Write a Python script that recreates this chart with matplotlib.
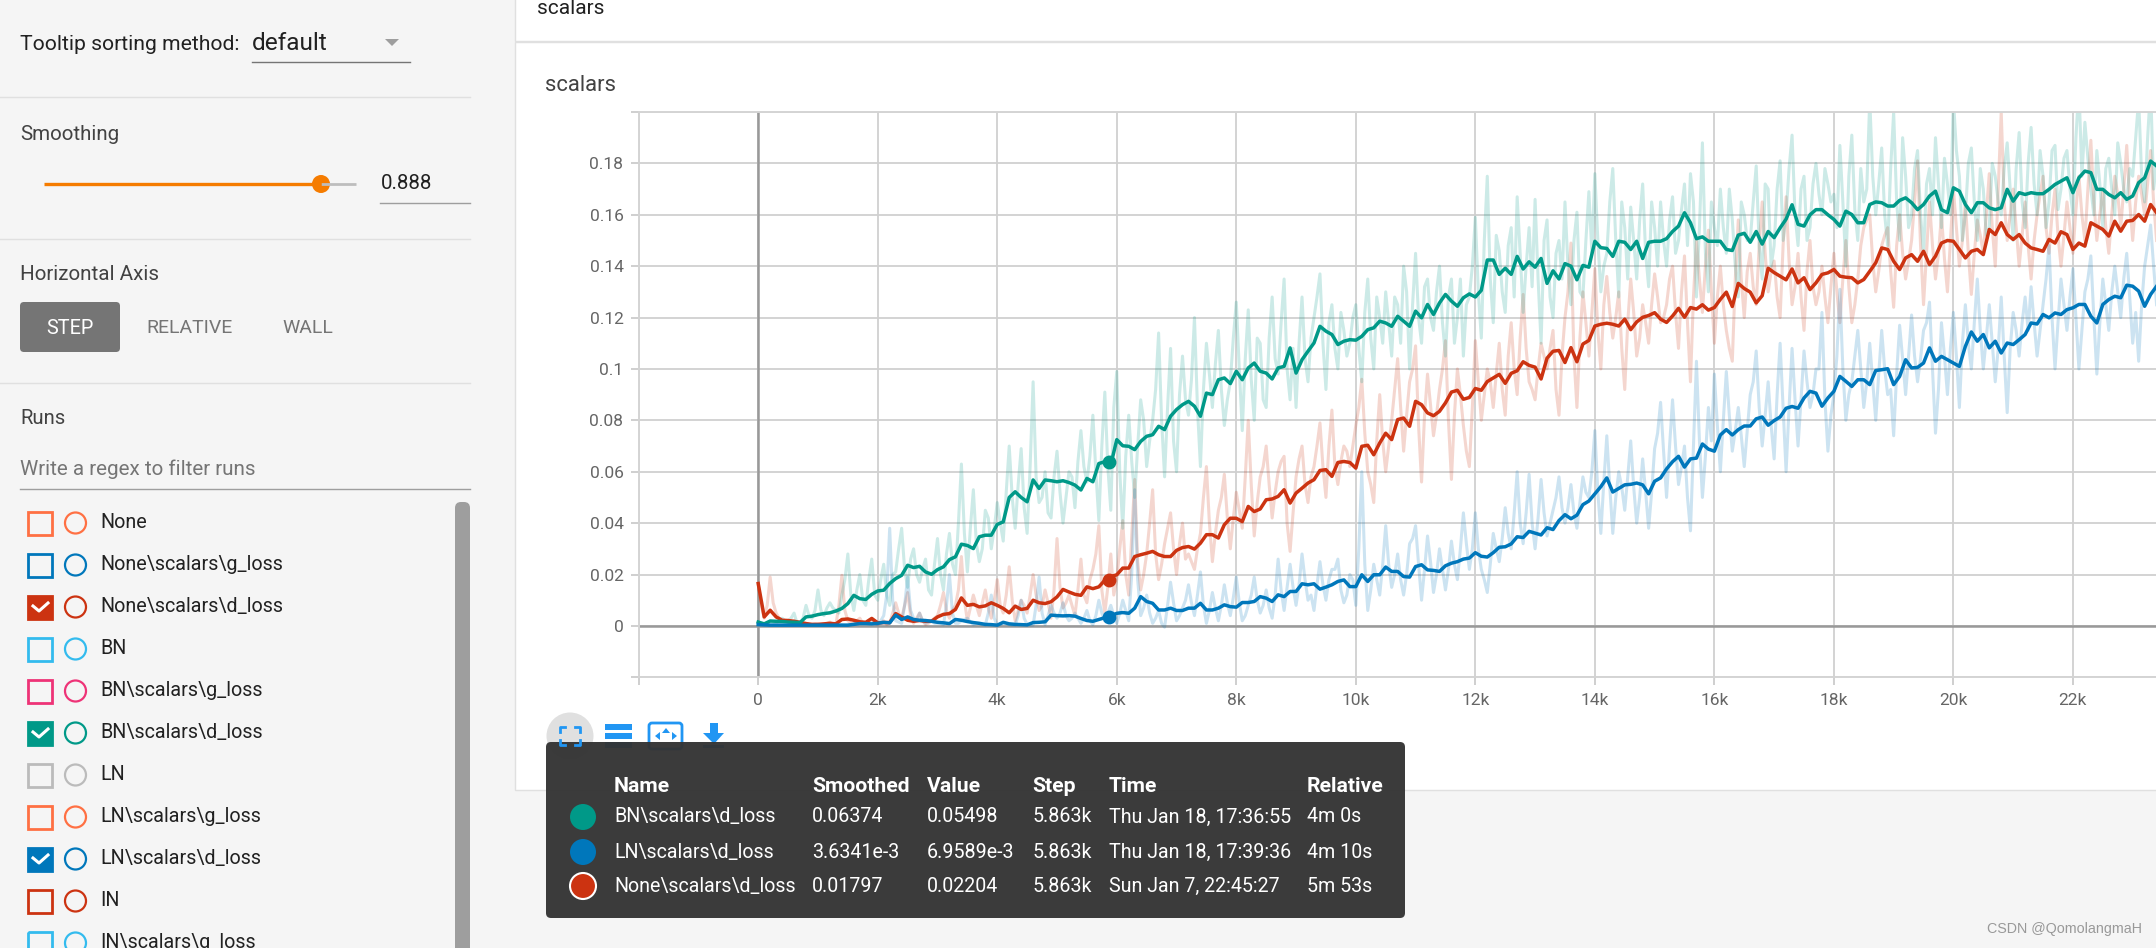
import numpy as np
import matplotlib
matplotlib.use("Agg")
import matplotlib.pyplot as plt
from matplotlib.patches import Circle, FancyBboxPatch, Rectangle, Polygon

plt.rcParams['font.family'] = ['Roboto', 'DejaVu Sans']

W, H = 2156, 948

bn_smooth = [
    1.5, 0.8, 1.9, 1.8, 1.7, 1.5, 1.4, 1.3, 3.5, 3.8,
    4.4, 4.8, 5.1, 5.8, 6.8, 8.7, 11.9, 10.6, 10.3, 12.3,
    13.6, 13.9, 16.5, 18.4, 19.7, 23.6, 22.7, 23.2, 21.0, 20.1,
    21.9, 23.0, 25.8, 26.9, 31.8, 31.3, 30.1, 34.7, 35.3, 35.3,
    39.5, 40.5, 50.0, 52.2, 50.0, 48.3, 56.8, 53.5, 56.8, 56.5,
    56.1, 56.5, 55.8, 54.8, 52.9, 57.4, 56.1, 63.2, 63.9, 62.7,
    72.5, 70.1, 69.9, 68.6, 71.8, 73.8, 74.4, 77.7, 76.4, 81.6,
    84.2, 86.1, 87.4, 85.5, 81.6, 90.6, 90.0, 95.8, 96.5, 94.3,
    99.1, 95.8, 100.4, 102.3, 99.1, 98.4, 96.1, 100.4, 101.0, 108.2,
    98.4, 103.6, 106.9, 110.1, 116.6, 114.7, 113.4, 109.5, 110.8, 111.4,
    111.2, 112.7, 115.3, 116.0, 118.6, 117.9, 116.6, 120.5, 118.6, 116.6,
    122.5, 119.9, 125.1, 121.2, 125.7, 129.0, 126.4, 124.4, 127.7, 129.2,
    128.0, 130.6, 142.4, 142.4, 136.8, 139.2, 136.8, 143.8, 138.9, 141.7,
    139.6, 143.0, 133.3, 138.2, 135.0, 141.0, 140.0, 134.7, 140.3, 139.6,
    149.7, 147.2, 146.9, 143.8, 149.7, 149.3, 146.5, 149.7, 143.0, 149.3,
    149.7, 149.7, 150.7, 153.5, 155.6, 160.8, 156.9, 150.7, 151.4, 149.7,
    149.7, 149.7, 146.5, 146.1, 152.1, 152.8, 149.3, 153.5, 148.6, 153.5,
    151.1, 154.9, 158.3, 163.9, 156.3, 155.6, 160.0, 162.0, 162.0, 160.0,
    158.2, 155.6, 161.4, 160.1, 156.9, 156.9, 164.0, 165.0, 164.7, 163.4,
    163.4, 165.6, 166.6, 164.7, 162.0, 164.0, 167.3, 169.2, 162.0, 160.8,
    170.5, 169.2, 164.0, 160.8, 164.7, 164.7, 162.7, 162.0, 162.7, 169.9,
    165.3, 168.6, 167.9, 168.6, 168.2, 168.2, 169.9, 171.8, 173.1, 174.4,
    168.6, 174.4, 177.0, 176.4, 169.9, 169.9, 167.9, 166.6, 168.6, 166.0,
    167.3, 172.5, 174.4, 180.9, 179.0,
]
none_smooth = [
    16.5, 3.5, 6.1, 3.5, 2.2, 2.1, 1.8, 1.4, 0.9, 0.6,
    0.6, 0.8, 1.0, 0.8, 2.5, 2.7, 2.2, 1.6, 1.4, 2.9,
    1.2, 1.3, 1.3, 4.8, 3.5, 2.2, 1.8, 2.1, 1.8, 1.8,
    3.5, 4.5, 4.8, 6.4, 10.9, 8.0, 8.4, 7.4, 7.8, 9.0,
    8.0, 6.8, 5.1, 7.7, 6.4, 6.8, 10.0, 9.0, 8.7, 9.4,
    11.3, 14.2, 13.2, 12.3, 11.9, 15.2, 14.5, 15.2, 17.8, 19.2,
    19.9, 22.5, 22.5, 27.0, 27.7, 28.3, 29.0, 27.7, 27.0, 27.0,
    29.4, 30.5, 30.9, 29.9, 32.2, 35.5, 35.5, 34.2, 39.4, 41.9,
    41.9, 40.6, 46.5, 44.5, 45.5, 49.1, 49.4, 50.4, 53.0, 47.8,
    51.7, 53.6, 55.6, 56.9, 60.5, 60.8, 58.2, 63.6, 64.0, 63.6,
    61.4, 69.9, 70.3, 66.6, 71.2, 75.0, 72.5, 80.3, 80.9, 77.7,
    87.4, 86.1, 82.9, 81.8, 83.5, 86.8, 91.0, 91.7, 88.2, 88.9,
    92.4, 91.7, 95.1, 96.5, 97.9, 94.4, 98.3, 99.3, 102.8, 101.4,
    100.7, 96.1, 104.2, 106.9, 107.2, 102.5, 108.3, 102.8, 109.7, 111.1,
    116.7, 117.4, 117.8, 117.4, 116.7, 119.4, 115.3, 118.3, 120.1, 120.8,
    121.9, 119.4, 118.1, 120.6, 123.6, 120.1, 123.9, 123.3, 125.0, 122.9,
    123.9, 127.1, 129.9, 124.3, 133.3, 131.3, 129.9, 125.7, 128.5, 139.2,
    137.5, 136.1, 134.7, 138.9, 133.5, 135.5, 130.9, 133.5, 136.8, 137.4,
    138.7, 136.1, 135.7, 135.5, 133.5, 134.8, 138.0, 141.3, 147.1, 146.5,
    141.9, 138.7, 143.2, 144.5, 141.9, 145.8, 140.6, 143.9, 149.0, 150.0,
    149.7, 146.5, 143.2, 145.8, 146.5, 144.5, 154.3, 152.3, 156.9, 152.3,
    150.4, 152.3, 149.0, 147.1, 146.5, 145.8, 150.4, 149.0, 153.4, 152.3,
    146.5, 149.0, 147.8, 156.9, 155.6, 154.3, 151.7, 157.5, 153.6, 157.5,
    157.8, 160.1, 157.5, 164.0, 160.8,
]
ln_smooth = [
    0.5, 0.4, 0.3, 0.3, 0.3, 0.3, 0.3, 0.3, 0.3, 0.3,
    0.3, 0.3, 0.3, 0.3, 0.3, 0.3, 0.6, 0.9, 0.9, 0.8,
    1.0, 1.4, 1.2, 4.2, 2.5, 3.5, 2.5, 2.2, 2.1, 1.8,
    1.4, 1.2, 0.9, 2.5, 2.2, 1.7, 1.3, 1.0, 0.6, 0.5,
    0.3, 1.4, 0.8, 0.6, 0.5, 0.4, 1.3, 1.4, 1.6, 4.2,
    4.0, 3.9, 4.0, 3.8, 2.9, 2.1, 1.8, 2.5, 3.2, 3.9,
    4.9, 5.2, 4.9, 6.9, 11.4, 9.5, 8.8, 6.2, 6.2, 6.9,
    6.0, 6.0, 6.9, 6.9, 8.8, 6.2, 6.2, 6.9, 8.2, 7.5,
    7.3, 9.1, 9.1, 9.5, 11.4, 10.8, 9.5, 12.1, 11.4, 13.4,
    13.4, 16.4, 16.0, 16.4, 14.3, 15.1, 16.0, 17.3, 17.9, 15.3,
    15.3, 19.9, 17.3, 19.9, 19.9, 22.9, 21.2, 21.2, 19.2, 19.0,
    23.1, 23.8, 21.8, 21.6, 21.2, 23.4, 24.4, 25.0, 26.0, 26.4,
    28.5, 27.1, 26.8, 28.5, 30.6, 30.8, 31.9, 34.7, 34.4, 36.8,
    36.1, 35.4, 38.2, 37.5, 41.0, 43.3, 41.7, 43.1, 47.2, 48.6,
    51.4, 54.2, 57.6, 52.1, 53.5, 54.9, 55.1, 55.6, 54.9, 51.4,
    56.3, 57.6, 61.1, 63.9, 66.0, 61.8, 65.0, 65.3, 70.8, 68.8,
    68.0, 74.3, 76.4, 74.3, 76.4, 77.8, 77.8, 80.6, 81.3, 78.1,
    79.9, 81.3, 84.7, 85.4, 84.7, 88.7, 91.3, 90.6, 85.5, 88.7,
    91.3, 97.1, 95.2, 93.2, 95.8, 95.8, 93.9, 99.4, 99.7, 100.1,
    93.9, 97.1, 103.6, 100.4, 100.6, 102.3, 108.2, 103.0, 104.9, 103.6,
    102.3, 101.0, 108.8, 114.4, 110.8, 113.4, 108.2, 110.8, 106.2, 110.1,
    109.5, 111.4, 113.4, 117.9, 117.5, 121.2, 119.9, 121.8, 121.2, 123.1,
    123.8, 125.1, 125.1, 120.5, 117.9, 125.1, 127.0, 128.3, 127.7, 132.6,
    132.2, 130.3, 124.4, 129.0, 132.2,
]
# raw runs: *_raw at steps 0, 100, ... and *_raw_mid at steps 50, 150, ...
bn_raw = [
    1, 0.5, 2, 1, 3, 2, 5, 1, 8, 3,
    14, 4, 9, 6, 12, 28, 6, 20, 8, 26,
    10, 24, 8, 21, 38, 15, 30, 17, 26, 12,
    34, 14, 36, 20, 63, 21, 53, 25, 45, 30,
    48, 33, 70, 38, 69, 36, 95, 48, 60, 42,
    68, 40, 60, 46, 76, 56, 82, 41, 91, 45,
    99, 38, 82, 50, 88, 62, 80, 114, 58, 108,
    60, 105, 82, 120, 62, 110, 85, 115, 78, 95,
    126, 76, 123, 80, 110, 85, 128, 98, 135, 88,
    85, 128, 95, 120, 137, 92, 125, 100, 115, 110,
    125, 95, 135, 100, 120, 130, 105, 125, 140, 100,
    145, 110, 135, 115, 140, 105, 135, 120, 105, 128,
    159, 112, 175, 118, 146, 122, 155, 167, 122, 155,
    166, 110, 158, 120, 150, 165, 125, 161, 128, 169,
    176, 130, 145, 178, 128, 155, 163, 135, 172, 132,
    155, 165, 140, 167, 150, 172, 176, 128, 188, 130,
    155, 170, 145, 158, 128, 160, 150, 179, 135, 170,
    148, 181, 160, 191, 148, 175, 155, 180, 160, 172,
    168, 187, 140, 191, 150, 165, 205, 160, 186, 148,
    200, 150, 175, 160, 185, 145, 178, 190, 155, 172,
    205, 175, 160, 186, 150, 170, 155, 175, 160, 188,
    150, 192, 155, 194, 160, 175, 165, 187, 170, 185,
    160, 210, 196, 170, 185, 155, 182, 160, 180, 165,
    175, 205, 165, 210, 180,
]
bn_raw_mid = [
    1, 1, 1.5, 2, 2, 3, 1, 3, 4, 6,
    6, 7, 7, 5, 18, 12, 14, 10, 18, 12,
    18, 12, 20, 30, 22, 26, 20, 22, 14, 24,
    20, 28, 24, 40, 36, 38, 32, 30, 42, 38,
    40, 52, 50, 55, 46, 62, 58, 50, 44, 58,
    52, 50, 58, 64, 62, 66, 60, 70, 62, 85,
    60, 66, 64, 70, 80, 72, 92, 80, 85, 72,
    90, 88, 96, 85, 92, 98, 102, 92, 88, 112,
    100, 104, 96, 112, 88, 112, 104, 118, 100, 108,
    110, 104, 112, 128, 110, 118, 108, 122, 105, 120,
    108, 122, 112, 128, 110, 118, 128, 110, 130, 125,
    120, 132, 120, 130, 118, 128, 110, 135, 125, 140,
    130, 150, 135, 152, 130, 148, 128, 145, 140, 132,
    135, 150, 128, 145, 135, 140, 150, 130, 150, 145,
    150, 140, 165, 150, 165, 135, 150, 158, 145, 165,
    140, 150, 158, 145, 162, 148, 165, 155, 145, 165,
    148, 155, 170, 140, 165, 150, 165, 148, 172, 140,
    170, 150, 178, 160, 170, 150, 172, 168, 178, 165,
    155, 165, 175, 162, 178, 170, 175, 172, 160, 178,
    165, 190, 155, 178, 160, 172, 160, 172, 182, 160,
    185, 150, 180, 165, 178, 152, 180, 165, 178, 170,
    178, 165, 180, 172, 185, 155, 185, 162, 182, 170,
    190, 175, 182, 160, 172, 178, 170, 188, 170, 178,
    190, 175, 190, 170,
]
none_raw = [
    16, 3, 19, 5, 2, 1.5, 2, 0.5, 1, 0.5,
    0.8, 0.3, 1.5, 0.5, 19.7, 2, 0.5, 3, 1, 3,
    0.5, 2, 1, 9, 3, 13, 1, 5, 0.5, 2,
    4, 13, 3, 8, 27, 2, 12, 4, 14, 3,
    18, 5, 23, 2, 10, 5, 20, 6, 14, 3,
    34, 7, 12, 4, 26, 9, 22, 39, 5, 28,
    18, 41, 12, 57, 14, 28, 53, 18, 32, 44,
    20, 40, 28, 22, 36, 62, 25, 45, 59, 30,
    52, 38, 80, 35, 58, 70, 42, 60, 66, 29,
    58, 70, 48, 62, 79, 50, 84, 55, 70, 62,
    78, 96, 60, 48, 90, 60, 80, 104, 68, 95,
    109, 56, 98, 74, 92, 111, 57, 100, 78, 62,
    111, 80, 100, 85, 110, 82, 118, 90, 129, 95,
    88, 110, 100, 115, 82, 120, 149, 85, 130, 105,
    139, 100, 136, 112, 130, 92, 135, 105, 125, 110,
    137, 118, 125, 140, 108, 144, 95, 150, 122, 154,
    110, 140, 115, 103, 158, 120, 145, 125, 165, 130,
    142, 120, 167, 125, 145, 115, 150, 125, 140, 118,
    145, 118, 150, 118, 135, 155, 160, 130, 148, 155,
    124, 160, 135, 150, 181, 125, 165, 135, 160, 130,
    170, 140, 165, 129, 158, 145, 176, 140, 200, 150,
    170, 140, 165, 135, 160, 175, 145, 170, 140, 165,
    145, 175, 150, 189, 150, 170, 145, 175, 155, 187,
    150, 175, 160, 185, 150,
]
none_raw_mid = [
    8, 8, 9, 3, 2, 1, 1, 1, 0.5, 0.8,
    0.5, 1, 0.5, 8, 6, 1, 2, 1, 2, 1,
    1, 0.5, 5, 5, 8, 4, 3, 2, 1, 3,
    8, 6, 6, 14, 10, 7, 8, 9, 7, 10,
    8, 12, 10, 6, 8, 12, 12, 8, 9, 14,
    15, 9, 8, 14, 12, 18, 28, 14, 15, 12,
    30, 20, 35, 25, 20, 40, 28, 24, 38, 30,
    32, 26, 25, 30, 50, 40, 36, 50, 42, 42,
    45, 58, 55, 48, 62, 55, 52, 64, 40, 44,
    65, 55, 58, 70, 62, 70, 62, 64, 68, 70,
    85, 75, 55, 72, 72, 70, 92, 85, 82, 100,
    78, 82, 86, 82, 100, 80, 82, 90, 68, 85,
    95, 90, 95, 98, 92, 105, 100, 112, 108, 92,
    100, 105, 108, 92, 105, 130, 105, 112, 118, 122,
    115, 125, 122, 120, 108, 118, 122, 112, 118, 125,
    128, 120, 135, 122, 130, 118, 128, 135, 140, 130,
    128, 125, 108, 135, 135, 138, 132, 148, 145, 138,
    128, 148, 142, 132, 128, 138, 132, 130, 128, 132,
    130, 135, 132, 125, 148, 158, 142, 138, 152, 138,
    148, 145, 142, 165, 148, 145, 148, 145, 143, 150,
    155, 150, 145, 145, 152, 160, 155, 170, 165, 160,
    155, 152, 148, 150, 168, 155, 160, 152, 152, 155,
    162, 160, 170, 165, 160, 155, 160, 168, 170, 165,
    165, 168, 172, 165,
]
ln_raw = [
    0.5, 0.3, 0.4, 0.3, 0.2, 0.3, 0.2, 0.3, 0.2, 0.3,
    0.2, 0.3, 0.4, 0.3, 0.5, 0.4, 0.8, 1.5, 1, 2,
    0.5, 4, 38, 2, 1, 19, 3, 5, 1, 2,
    1, 0.5, 20, 1, 2, 3, 0.5, 1, 0.3, 12,
    0.2, 1, 0.5, 0.3, 10, 0.5, 0.3, 19, 0.5, 8,
    3, 9, 2, 5, 1, 6, 0.5, 10, 2, 8,
    1, 10, 2, 53, 4, 12, 1, 6, -0.5, 17,
    2, 7, 16, 4, 21, 1, 13, 2, 16, 4,
    19, 2, 8, 19, 5, 14, 3, 26, 6, 24,
    8, 28, 10, 6, 25, 10, 22, 26, 9, 20,
    8, 60, 6, 24, 12, 39, 15, 28, 12, 32,
    39, 10, 35, 13, 30, 14, 33, 18, 44, 22,
    44, 22, 13, 36, 25, 46, 30, 60, 32, 59,
    30, 57, 35, 45, 58, 40, 55, 38, 58, 50,
    76, 36, 74, 36, 60, 45, 72, 40, 65, 38,
    69, 87, 50, 88, 55, 70, 37, 103, 50, 85,
    98, 60, 99, 68, 85, 62, 90, 107, 70, 95,
    65, 110, 60, 108, 70, 107, 85, 100, 122, 68,
    90, 131, 80, 95, 115, 85, 110, 80, 115, 90,
    74, 117, 90, 121, 95, 115, 126, 75, 118, 90,
    122, 85, 125, 100, 135, 100, 125, 95, 128, 83,
    122, 105, 128, 132, 105, 125, 148, 100, 135, 115,
    139, 100, 130, 144, 98, 135, 115, 140, 120, 145,
    110, 103, 140, 156, 125,
]
ln_raw_mid = [
    0.4, 0.3, 0.3, 0.3, 0.2, 0.2, 0.3, 0.2, 0.3, 0.2,
    0.3, 0.2, 0.3, 0.4, 0.3, 0.5, 1, 1, 1.5, 1,
    2, 12, 10, 1.5, 8, 6, 2, 2, 1.5, 1,
    1, 8, 5, 1, 2.5, 1.5, 1, 0.5, 5, 3,
    0.5, 0.8, 0.3, 4, 3, 0.3, 8, 5, 4, 5,
    5, 4, 3, 3, 3, 2, 4, 5, 5, 4,
    5, 6, 20, 18, 7, 5, 3, 1, 8, 9,
    4, 10, 9, 12, 8, 6, 7, 8, 9, 11,
    9, 4, 12, 10, 8, 7, 12, 14, 15, 15,
    16, 18, 12, 16, 16, 18, 22, 14, 12, 18,
    30, 24, 14, 18, 24, 24, 20, 18, 20, 34,
    24, 22, 25, 20, 22, 22, 24, 30, 32, 30,
    30, 18, 24, 30, 34, 36, 44, 40, 44, 40,
    42, 44, 40, 50, 46, 46, 44, 48, 52, 60,
    52, 56, 54, 50, 54, 58, 54, 50, 52, 52,
    75, 68, 70, 70, 62, 50, 70, 72, 66, 72,
    78, 80, 82, 76, 74, 76, 95, 85, 82, 78,
    90, 85, 85, 88, 88, 95, 90, 100, 88, 82,
    105, 100, 90, 105, 100, 95, 95, 98, 100, 92,
    98, 104, 105, 105, 104, 118, 100, 92, 105, 108,
    105, 110, 110, 118, 115, 112, 110, 108, 105, 108,
    115, 118, 115, 118, 115, 135, 120, 118, 125, 128,
    120, 115, 135, 120, 118, 125, 130, 130, 135, 128,
    122, 125, 148, 140,
]

# hovered point from the tooltip
hover_step = 5863
hover_bn = 0.06374
hover_ln = 3.6341e-3
hover_none = 0.01797

x_ticks = [-2000, 0, 2000, 4000, 6000, 8000, 10000, 12000, 14000, 16000, 18000, 20000, 22000]
x_labels = ['', '0', '2k', '4k', '6k', '8k', '10k', '12k', '14k', '16k', '18k', '20k', '22k']
y_ticks = [-0.02, 0, 0.02, 0.04, 0.06, 0.08, 0.1, 0.12, 0.14, 0.16, 0.18, 0.2]
y_labels = ['', '0', '0.02', '0.04', '0.06', '0.08', '0.1', '0.12', '0.14', '0.16', '0.18', '']

run_names = ['None', 'None\\scalars\\g_loss', 'None\\scalars\\d_loss', 'BN', 'BN\\scalars\\g_loss',
             'BN\\scalars\\d_loss', 'LN', 'LN\\scalars\\g_loss', 'LN\\scalars\\d_loss', 'IN', 'IN\\scalars\\g_loss']
run_colors = ['#ff7043', '#0077bb', '#cc3311', '#33bbee', '#ee3377',
              '#009988', '#bbbbbb', '#ff7043', '#0077bb', '#cc3311', '#33bbee']
run_checked = [False, False, True, False, False, True, False, False, True, False, False]

tip_header = ['Name', 'Smoothed', 'Value', 'Step', 'Time', 'Relative']
tip_rows = [
    ['BN\\scalars\\d_loss', '0.06374', '0.05498', '5.863k', 'Thu Jan 18, 17:36:55', '4m 0s'],
    ['LN\\scalars\\d_loss', '3.6341e-3', '6.9589e-3', '5.863k', 'Thu Jan 18, 17:39:36', '4m 10s'],
    ['None\\scalars\\d_loss', '0.01797', '0.02204', '5.863k', 'Sun Jan 7, 22:45:27', '5m 53s'],
]
tip_colors = ['#009988', '#0077bb', '#cc3311']

fig = plt.figure(figsize=(W / 100, H / 100), dpi=100, facecolor='#f5f5f5')


def pixel_axes(zorder):
    a = fig.add_axes([0, 0, 1, 1], zorder=zorder)
    a.set_xlim(0, W)
    a.set_ylim(H, 0)
    a.axis('off')
    a.patch.set_alpha(0)
    return a


bg = pixel_axes(0)
ui = pixel_axes(3)

# cards
bg.add_patch(Rectangle((515, -2), W, 43, fc='white', ec='#e0e0e0', lw=1))
bg.add_patch(Rectangle((515, 42), W, 748, fc='white', ec='#e0e0e0', lw=1))
bg.text(537, 8, 'scalars', fontsize=15, color='#212121', va='center')
bg.text(545, 85, 'scalars', fontsize=15.8, color='#424242', va='center')

# sidebar
for y in [97, 239, 383]:
    bg.plot([0, 470], [y, y], color='#e0e0e0', lw=1)
bg.text(20, 44, 'Tooltip sorting method:', fontsize=15.2, color='#212121', va='center')
bg.text(252, 43, 'default', fontsize=17.6, color='#212121', va='center')
bg.plot([252, 410], [62, 62], color='#757575', lw=1)
bg.add_patch(Polygon([[385, 39], [399, 39], [392, 46]], fc='#9e9e9e', ec='none'))
bg.text(20, 134, 'Smoothing', fontsize=14.8, color='#424242', va='center')
bg.plot([321, 356], [184, 184], color='#bdbdbd', lw=2, solid_capstyle='butt')
bg.plot([44, 321], [184, 184], color='#f57c00', lw=2.4, solid_capstyle='butt')
bg.add_patch(Circle((321, 184), 9, fc='#f57c00', ec='none'))
bg.text(381, 183, '0.888', fontsize=14.8, color='#212121', va='center')
bg.plot([380, 470], [203, 203], color='#9e9e9e', lw=1)
bg.text(20, 275, 'Horizontal Axis', fontsize=14.9, color='#424242', va='center')
bg.add_patch(FancyBboxPatch((23, 305), 94, 44, boxstyle='round,pad=3,rounding_size=4', fc='#757575', ec='none'))
bg.text(70, 328, 'STEP', fontsize=14.3, color='white', ha='center', va='center')
bg.text(190, 328, 'RELATIVE', fontsize=14, color='#757575', ha='center', va='center')
bg.text(308, 328, 'WALL', fontsize=14, color='#757575', ha='center', va='center')
bg.text(20, 419, 'Runs', fontsize=14.6, color='#424242', va='center')
bg.text(20, 469, 'Write a regex to filter runs', fontsize=14.9, color='#757575', va='center')
bg.plot([20, 470], [489, 489], color='#9e9e9e', lw=1)
bg.add_patch(FancyBboxPatch((458, 505), 9, 460, boxstyle='round,pad=3,rounding_size=6', fc='#9e9e9e', ec='none'))

for i, name in enumerate(run_names):
    y = 523 + 42 * i
    col = run_colors[i]
    checked = run_checked[i]
    bg.add_patch(Rectangle((27.5, y - 11.5), 24, 23, fc=col if checked else 'none', ec=col, lw=2))
    if checked:
        bg.plot([33, 39, 48], [y - 1, y + 4, y - 4], color='white', lw=2.2)
    bg.add_patch(Circle((75.5, y), 10.5, fc='none', ec=col, lw=1.6))
    bg.text(100.5, y, name, fontsize=14.2, color='#212121', va='center')

bg.text(2142, 929, 'CSDN @QomolangmaH', fontsize=10.3, color='#999999', ha='right', va='center',
        family=['Liberation Sans', 'DejaVu Sans'])

# chart
left, right, top, bottom = 638.7, W, 112, 677.3
ax = fig.add_axes([left / W, 1 - bottom / H, (right - left) / W, (bottom - top) / H], zorder=1)
ax.set_xlim(-2000, 23390)
ax.set_ylim(-0.02, 0.2)
ax.set_xticks(x_ticks)
ax.set_xticklabels(x_labels)
ax.set_yticks(y_ticks)
ax.set_yticklabels(y_labels)
ax.grid(True, color='#d0d0d0', lw=1.3)
ax.set_axisbelow(True)
ax.tick_params(axis='both', colors='#cccccc', labelcolor='#666666', labelsize=12.5, length=6, width=1.3, pad=5)
for s in ax.spines.values():
    s.set_color('#d4d4d4')
    s.set_linewidth(1.4)
ax.spines['right'].set_visible(False)
ax.axhline(0, color='#999999', lw=1.8, zorder=1.5)
ax.axvline(0, color='#999999', lw=1.8, zorder=1.5)

series = [
    (none_raw, none_raw_mid, none_smooth, '#cc3311', hover_none),
    (bn_raw, bn_raw_mid, bn_smooth, '#009988', hover_bn),
    (ln_raw, ln_raw_mid, ln_smooth, '#0077bb', hover_ln),
]
for raw, mid, smooth, col, hover in series:
    # merge the two lists back into step order
    steps = np.concatenate([100 * np.arange(len(raw)), 50 + 100 * np.arange(len(mid))])
    vals = np.concatenate([raw, mid]) / 1000
    order = np.argsort(steps)
    ax.plot(steps[order], vals[order], color=col, alpha=0.2, lw=2.2, zorder=2)
for raw, mid, smooth, col, hover in series:
    ax.plot(100 * np.arange(len(smooth)), np.array(smooth) / 1000, color=col, lw=2.5, zorder=3)
    ax.plot([hover_step], [hover], 'o', color=col, ms=10, mec='none', zorder=4)

# icons under the tooltip
blue = '#2196f3'
ui.add_patch(Circle((570, 736), 23.5, fc='#e0e0e0', ec='none'))
for x0, y0, dx, dy in [(560, 727, 1, 1), (580, 727, -1, 1), (560, 745, 1, -1), (580, 745, -1, -1)]:
    ui.plot([x0 + 5 * dx, x0, x0], [y0, y0, y0 + 5 * dy], color=blue, lw=2)
for y in [727, 736, 745]:
    ui.add_patch(Rectangle((605, y - 3), 27, 6, fc=blue, ec='none'))
ui.add_patch(FancyBboxPatch((651, 725), 29, 22, boxstyle='round,pad=2,rounding_size=3', fc='none', ec=blue, lw=2))
ui.add_patch(Polygon([[666, 728], [662, 733], [670, 733]], fc=blue, ec='none'))
ui.add_patch(Polygon([[655, 736], [660, 732], [660, 740]], fc=blue, ec='none'))
ui.add_patch(Polygon([[677, 736], [672, 732], [672, 740]], fc=blue, ec='none'))
ui.add_patch(Polygon([[710, 723], [718, 723], [718, 733], [724, 733], [714, 744], [703, 733], [710, 733]], fc=blue, ec='none'))
ui.add_patch(Rectangle((703, 745), 21, 3, fc=blue, ec='none'))

# tooltip
ui.add_patch(FancyBboxPatch((551, 747), 849, 166, boxstyle='round,pad=5,rounding_size=5', fc='#333333', ec='none', alpha=0.96))
col_x = [614, 812, 927, 1032, 1109, 1307]
for x, label in zip(col_x, tip_header):
    ui.text(x, 786, label, fontsize=15.2, fontweight='bold', color='white', va='center')
for y, row, col in zip([817, 852, 886], tip_rows, tip_colors):
    ui.add_patch(Circle((583, y), 13, fc=col, ec='white' if col == '#cc3311' else 'none', lw=1.5))
    for x, label in zip(col_x, row):
        ui.text(x, y, label, fontsize=14.1, color='white', va='center')

fig.savefig('out.png', dpi=100, facecolor=fig.get_facecolor())
